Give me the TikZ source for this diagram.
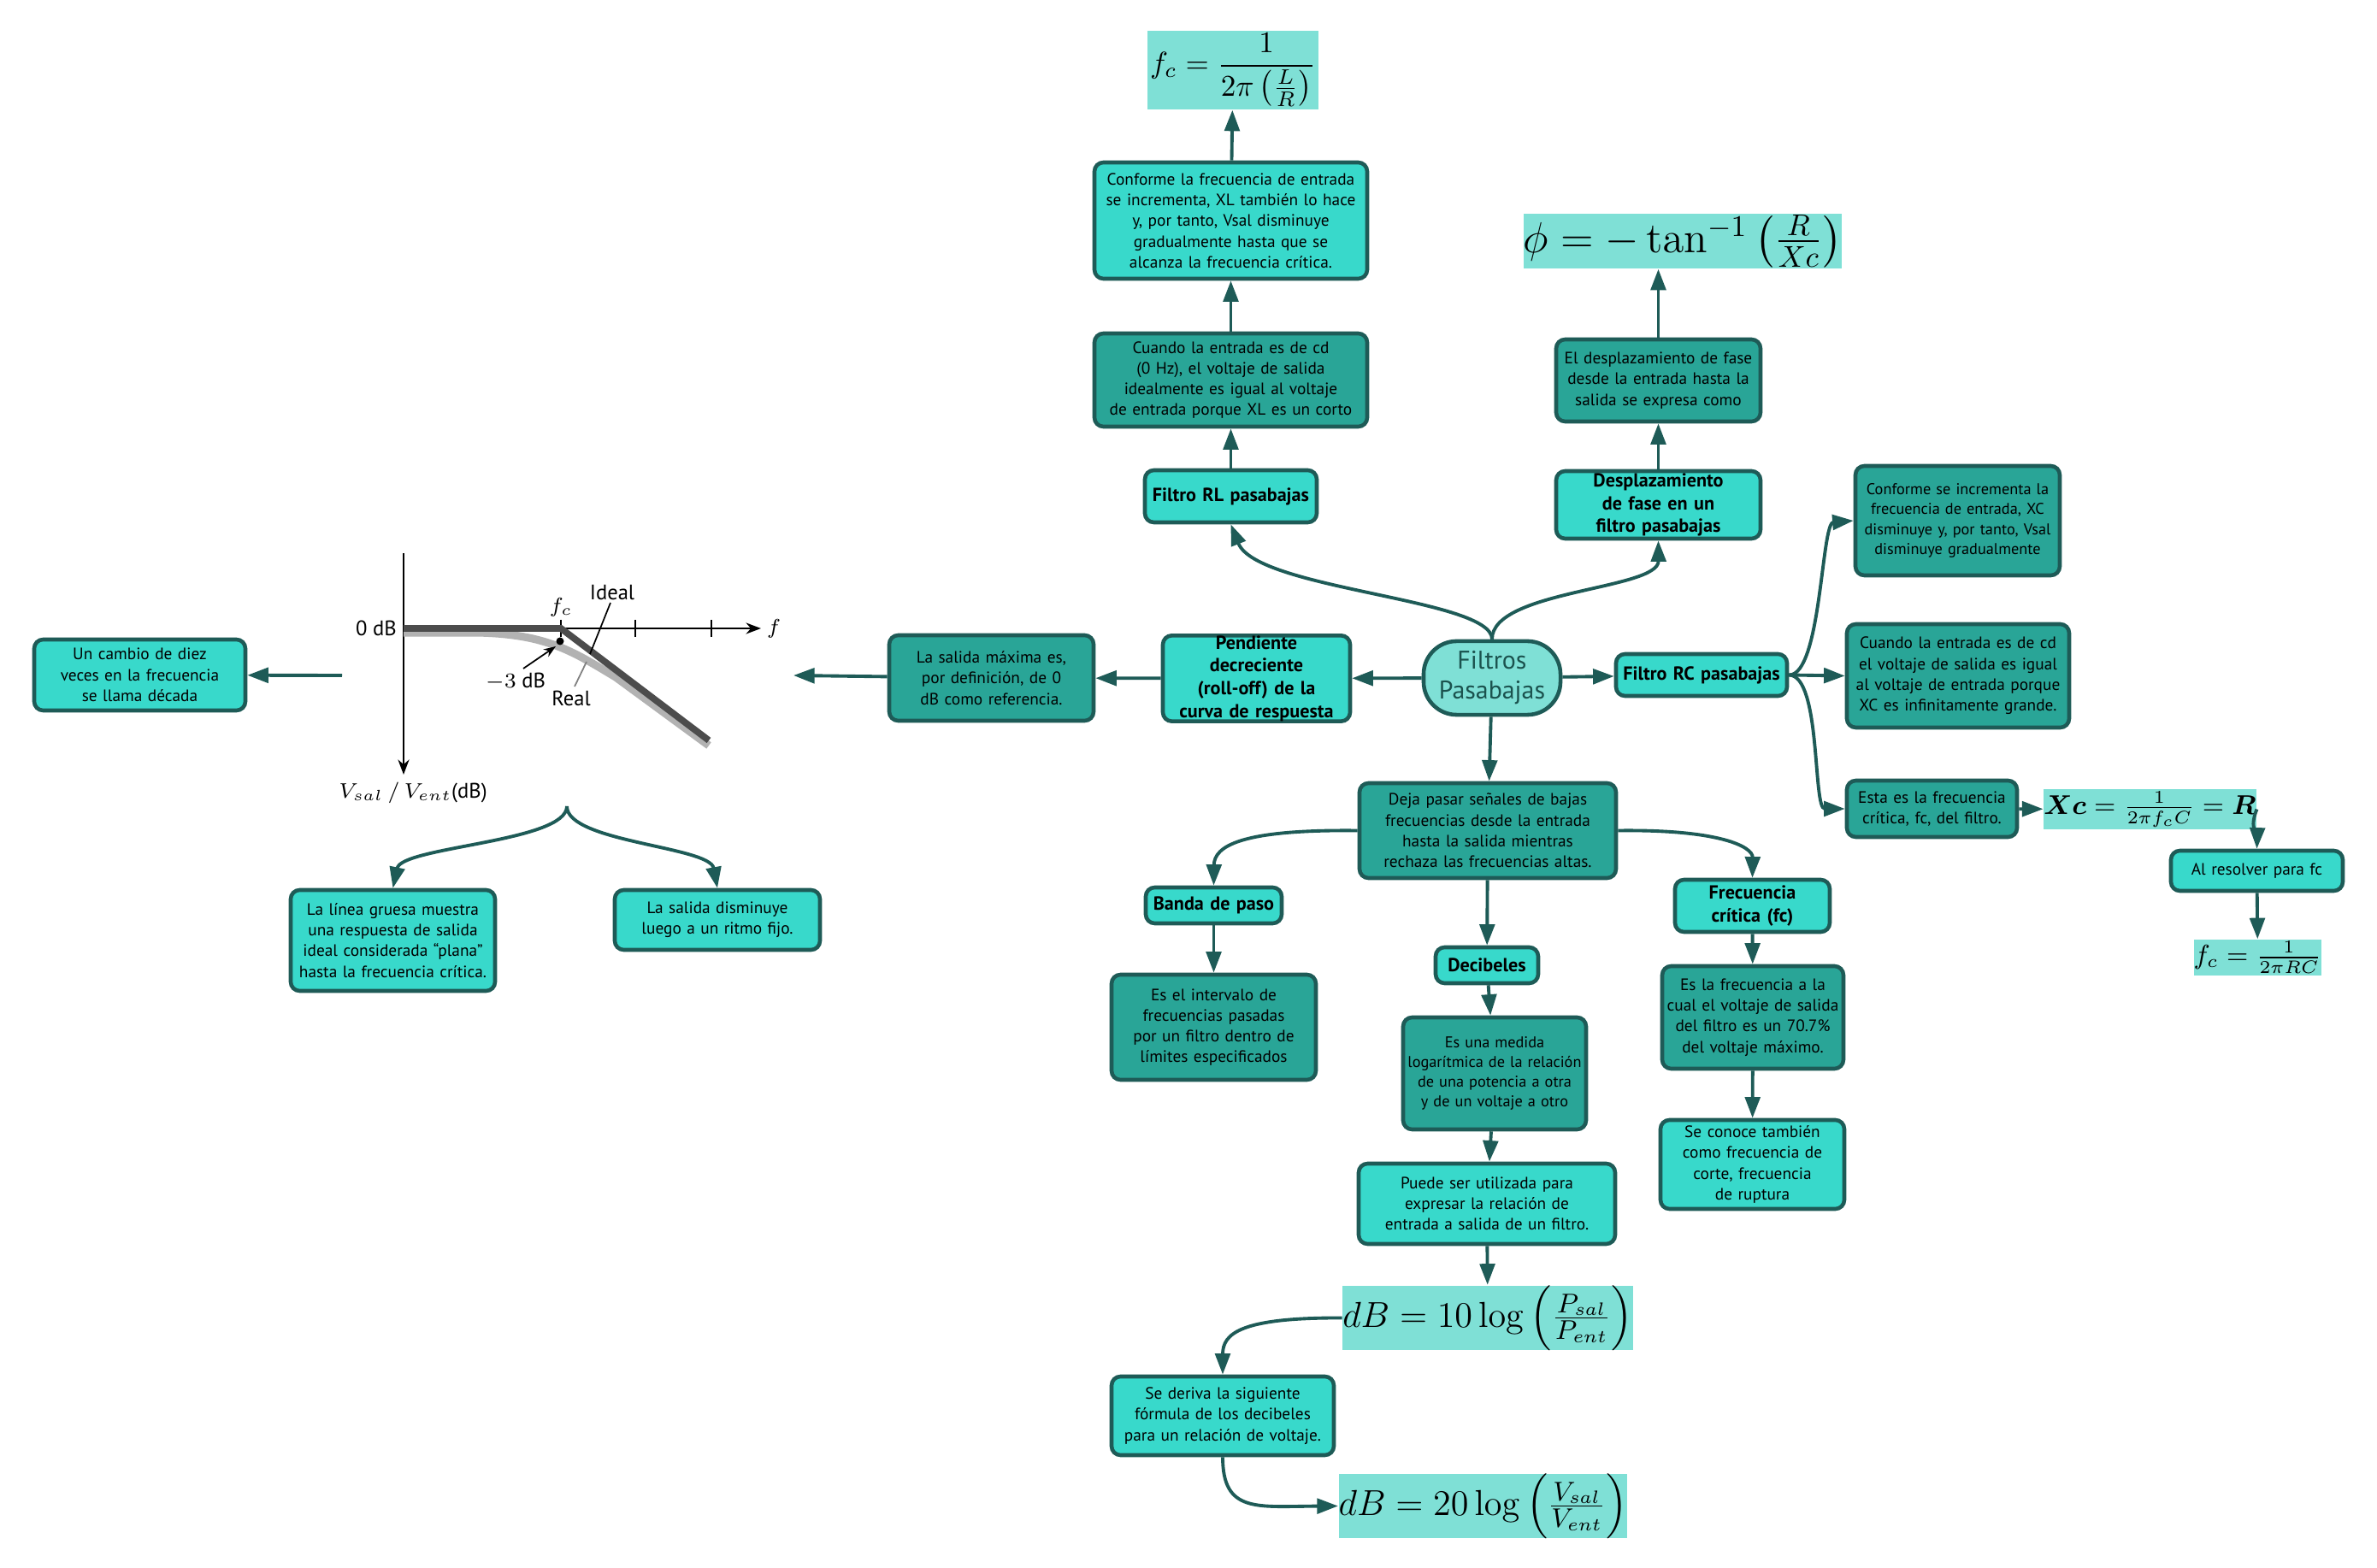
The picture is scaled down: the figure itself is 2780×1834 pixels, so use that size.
\documentclass[tikz,border=0pt]{standalone}
\usepackage{amsmath}
\usepackage[no-math]{fontspec}
\setmainfont{PT Sans}
\usetikzlibrary{arrows.meta}
\hyphenpenalty=10000
\exhyphenpenalty=10000
\tolerance=9999
\definecolor{lt}{HTML}{38D9CB}
\definecolor{dk}{HTML}{29A597}
\definecolor{bd}{HTML}{1E5B57}
\definecolor{fm}{HTML}{7FE0D6}
\tikzset{
 base/.style={draw=bd, line width=1.3pt, rounded corners=3pt, inner sep=0pt, align=center, font=\fontsize{5.5}{6.9}\selectfont},
 light/.style={base, fill=lt},
 dark/.style={base, fill=dk},
 small/.style={font=\fontsize{5.2}{6.6}\selectfont},
 ttl/.style={base, fill=lt, font=\fontsize{6.3}{7.6}\selectfont\bfseries},
 fbox/.style={fill=fm, inner sep=0pt, align=center},
 con/.style={draw=bd, line width=1.1pt, -{Triangle[length=7pt,width=5pt]}},
}
\newcommand\bx[7]{%
 \pgfmathsetlengthmacro\tw{(#5-#3)*0.01cm-3pt}%
 \node[#2, minimum width={(#5-#3)*0.01cm}, minimum height={(#6-#4)*0.01cm}, text width=\tw] (#1) at ({(#3+#5)/2},{(#4+#6)/2}) {#7};}
\newcommand\fx[6]{%
 \node[fbox, minimum width={(#4-#2)*0.01cm}, minimum height={(#5-#3)*0.01cm}] (#1) at ({(#2+#4)/2},{(#3+#5)/2}) {#6};}
\begin{document}
\begin{tikzpicture}[x=0.01cm,y=-0.01cm]
\useasboundingbox[fill=white] (0,0) rectangle (2780,1834);
\node[draw=bd, line width=1.3pt, fill=fm, rounded corners=11pt, minimum width=1.6cm, minimum height=0.82cm, align=center, text=bd!90!black, font=\fontsize{8.5}{10}\selectfont] (F) at (1745,793) {Filtros\\Pasabajas};
\bx{P}{ttl}{1360}{744}{1579}{843}{Pendiente decreciente (roll-off) de la curva de respuesta}
\bx{LS}{dark}{1040}{743}{1279}{843}{La salida máxima es, por definición, de 0 dB como referencia.}
\coordinate (G1) at (928,790);
\coordinate (G0) at (400,790);
\bx{UC}{light}{40}{748}{287}{831}{Un cambio de diez veces en la frecuencia se llama década}
\bx{LG}{light}{340}{1041}{579}{1159}{La línea gruesa muestra una respuesta de salida ideal considerada “plana” hasta la frecuencia crítica.}
\bx{LD}{light}{719}{1041}{959}{1111}{La salida disminuye luego a un ritmo fijo.}
\draw[line width=0.5pt,-{Stealth[length=5pt]}] (472,647) -- (472,906);
\draw[line width=0.5pt,-{Stealth[length=5pt]}] (472,735) -- (890,735);
\foreach \t in {656,743,832} \draw[line width=0.5pt] (\t,725) -- (\t,745);
\draw[gray!60, line width=2.6pt] (472,740) -- (560,740) .. controls (640,742) and (670,762) .. (720,792) -- (829,872);
\draw[black!70, line width=2.2pt] (472,735) -- (656,735) -- (829,866);
\fill (655,750) circle (4.5);
\draw[line width=0.5pt,-{Stealth[length=4pt]}] (612,782) -- (650,756);
\draw[line width=0.5pt] (714,705) -- (690,765);
\draw[gray, line width=0.5pt] (672,803) -- (686,774);
\node[font=\fontsize{7}{8}\selectfont] at (440,735) {0 dB};
\node[font=\fontsize{7.5}{8}\selectfont] at (905,735) {$f$};
\node[font=\fontsize{7}{8}\selectfont] at (656,710) {$f_c$};
\node[font=\fontsize{7}{8}\selectfont] at (716,693) {Ideal};
\node[font=\fontsize{7}{8}\selectfont] at (603,797) {$-3$ dB};
\node[font=\fontsize{7}{8}\selectfont] at (668,817) {Real};
\node[font=\fontsize{7}{8}\selectfont] at (483,927) {$V_{sal}\,/\,V_{ent}$(dB)};
\coordinate (BR) at (663,943);
\bx{RL}{ttl}{1339}{550}{1540}{611}{Filtro RL pasabajas}
\bx{C1}{dark}{1280}{390}{1599}{499}{Cuando la entrada es de cd (0 Hz), el voltaje de salida idealmente es igual al voltaje de entrada porque XL es un corto}
\bx{C2}{light}{1280}{190}{1599}{326}{Conforme la frecuencia de entrada se incrementa, XL también lo hace y, por tanto, Vsal disminuye gradualmente hasta que se alcanza la frecuencia crítica.}
\fx{FRL}{1342}{36}{1542}{128}{\fontsize{10}{11}\selectfont$f_c=\dfrac{1}{2\pi\left(\frac{L}{R}\right)}$}
\bx{DF}{ttl}{1820}{551}{2059}{630}{Desplazamiento de fase en un filtro pasabajas}
\bx{ED}{dark}{1820}{397}{2059}{493}{El desplazamiento de fase desde la entrada hasta la salida se expresa como}
\fx{PHI}{1820}{250}{2116}{314}{\fontsize{14}{15}\selectfont$\phi=-\tan^{-1}\left(\frac{R}{Xc}\right)$}
\bx{RC}{ttl}{1890}{765}{2090}{814}{Filtro RC pasabajas}
\bx{R1}{dark,small}{2170}{545}{2409}{673}{Conforme se incrementa la frecuencia de entrada, XC disminuye y, por tanto, Vsal disminuye gradualmente}
\bx{R2}{dark}{2160}{730}{2420}{851}{Cuando la entrada es de cd el voltaje de salida es igual al voltaje de entrada porque XC es infinitamente grande.}
\bx{R3}{dark}{2160}{913}{2359}{979}{Esta es la frecuencia crítica, fc, del filtro.}
\fx{XC}{2420}{923}{2609}{970}{\fontsize{9}{10}\selectfont$\boldsymbol{Xc}=\frac{1}{2\pi f_cC}=\boldsymbol{R}$}
\bx{AR}{light}{2539}{995}{2740}{1042}{Al resolver para fc}
\fx{FRC}{2580}{1099}{2701}{1141}{\fontsize{9}{10}\selectfont$f_c=\frac{1}{2\pi RC}$}
\bx{DP}{dark}{1590}{916}{1890}{1027}{Deja pasar señales de bajas frecuencias desde la entrada hasta la salida mientras rechaza las frecuencias altas.}
\bx{BP}{ttl}{1340}{1038}{1499}{1080}{Banda de paso}
\bx{EI}{dark}{1300}{1140}{1539}{1263}{Es el intervalo de frecuencias pasadas por un filtro dentro de límites especificados}
\bx{DB}{ttl}{1679}{1108}{1799}{1150}{Decibeles}
\bx{EM}{dark,small}{1641}{1190}{1855}{1321}{Es una medida logarítmica de la relación de una potencia a otra y de un voltaje a otro}
\bx{PU}{light}{1589}{1361}{1889}{1455}{Puede ser utilizada para expresar la relación de entrada a salida de un filtro.}
\fx{D10}{1596}{1510}{1884}{1573}{\fontsize{12.5}{13}\selectfont$dB=10\log\left(\frac{P_{sal}}{P_{ent}}\right)$}
\bx{SD}{light}{1300}{1610}{1560}{1702}{Se deriva la siguiente fórmula de los decibeles para un relación de voltaje.}
\fx{D20}{1590}{1730}{1879}{1793}{\fontsize{12.5}{13}\selectfont$dB=20\log\left(\frac{V_{sal}}{V_{ent}}\right)$}
\bx{FC}{ttl}{1959}{1029}{2140}{1090}{Frecuencia crítica (fc)}
\bx{EF}{dark}{1944}{1130}{2156}{1250}{Es la frecuencia a la cual el voltaje de salida del filtro es un 70.7\% del voltaje máximo.}
\bx{SC}{light}{1942}{1310}{2157}{1414}{Se conoce también como frecuencia de corte, frecuencia de ruptura}
\draw[con] (F) -- (P);
\draw[con] (P) -- (LS);
\draw[con] (LS) -- (G1);
\draw[con] (G0) -- (UC);
\draw[con] (F) -- (RC);
\draw[con] (F.north) .. controls (1745,700) and (1470,690) .. (RL.south);
\draw[con] (F.north) .. controls (1745,690) and (1940,690) .. (DF.south);
\draw[con] (RL) -- (C1);
\draw[con] (C1) -- (C2);
\draw[con] (C2) -- (FRL);
\draw[con] (DF) -- (ED);
\draw[con] (ED.north) -- (ED.north |- PHI.south);
\draw[con] (RC.east) .. controls (2130,790) and (2130,612) .. (R1.west);
\draw[con] (RC.east) -- (R2.west);
\draw[con] (RC.east) .. controls (2130,790) and (2120,946) .. (R3.west);
\draw[con] (R3) -- (XC);
\draw[con] (XC.east) .. controls (2630,970) and (2640,975) .. (AR.north);
\draw[con] (AR) -- (FRC);
\draw[con] (F) -- (DP);
\draw[con] (DP.west) .. controls (1450,970) and (1420,990) .. (BP.north);
\draw[con] (DP.east) .. controls (2010,970) and (2050,990) .. (FC.north);
\draw[con] (DP) -- (DB);
\draw[con] (BP) -- (EI);
\draw[con] (DB) -- (EM);
\draw[con] (EM) -- (PU);
\draw[con] (PU) -- (D10);
\draw[con] (D10.west) .. controls (1450,1541) and (1430,1560) .. (SD.north);
\draw[con] (SD.south) .. controls (1430,1770) and (1470,1762) .. (D20.west);
\draw[con] (FC) -- (EF);
\draw[con] (EF) -- (SC);
\draw[con] (BR) .. controls (663,985) and (470,990) .. (LG.north);
\draw[con] (BR) .. controls (663,985) and (830,990) .. (LD.north);
\end{tikzpicture}
\end{document}
